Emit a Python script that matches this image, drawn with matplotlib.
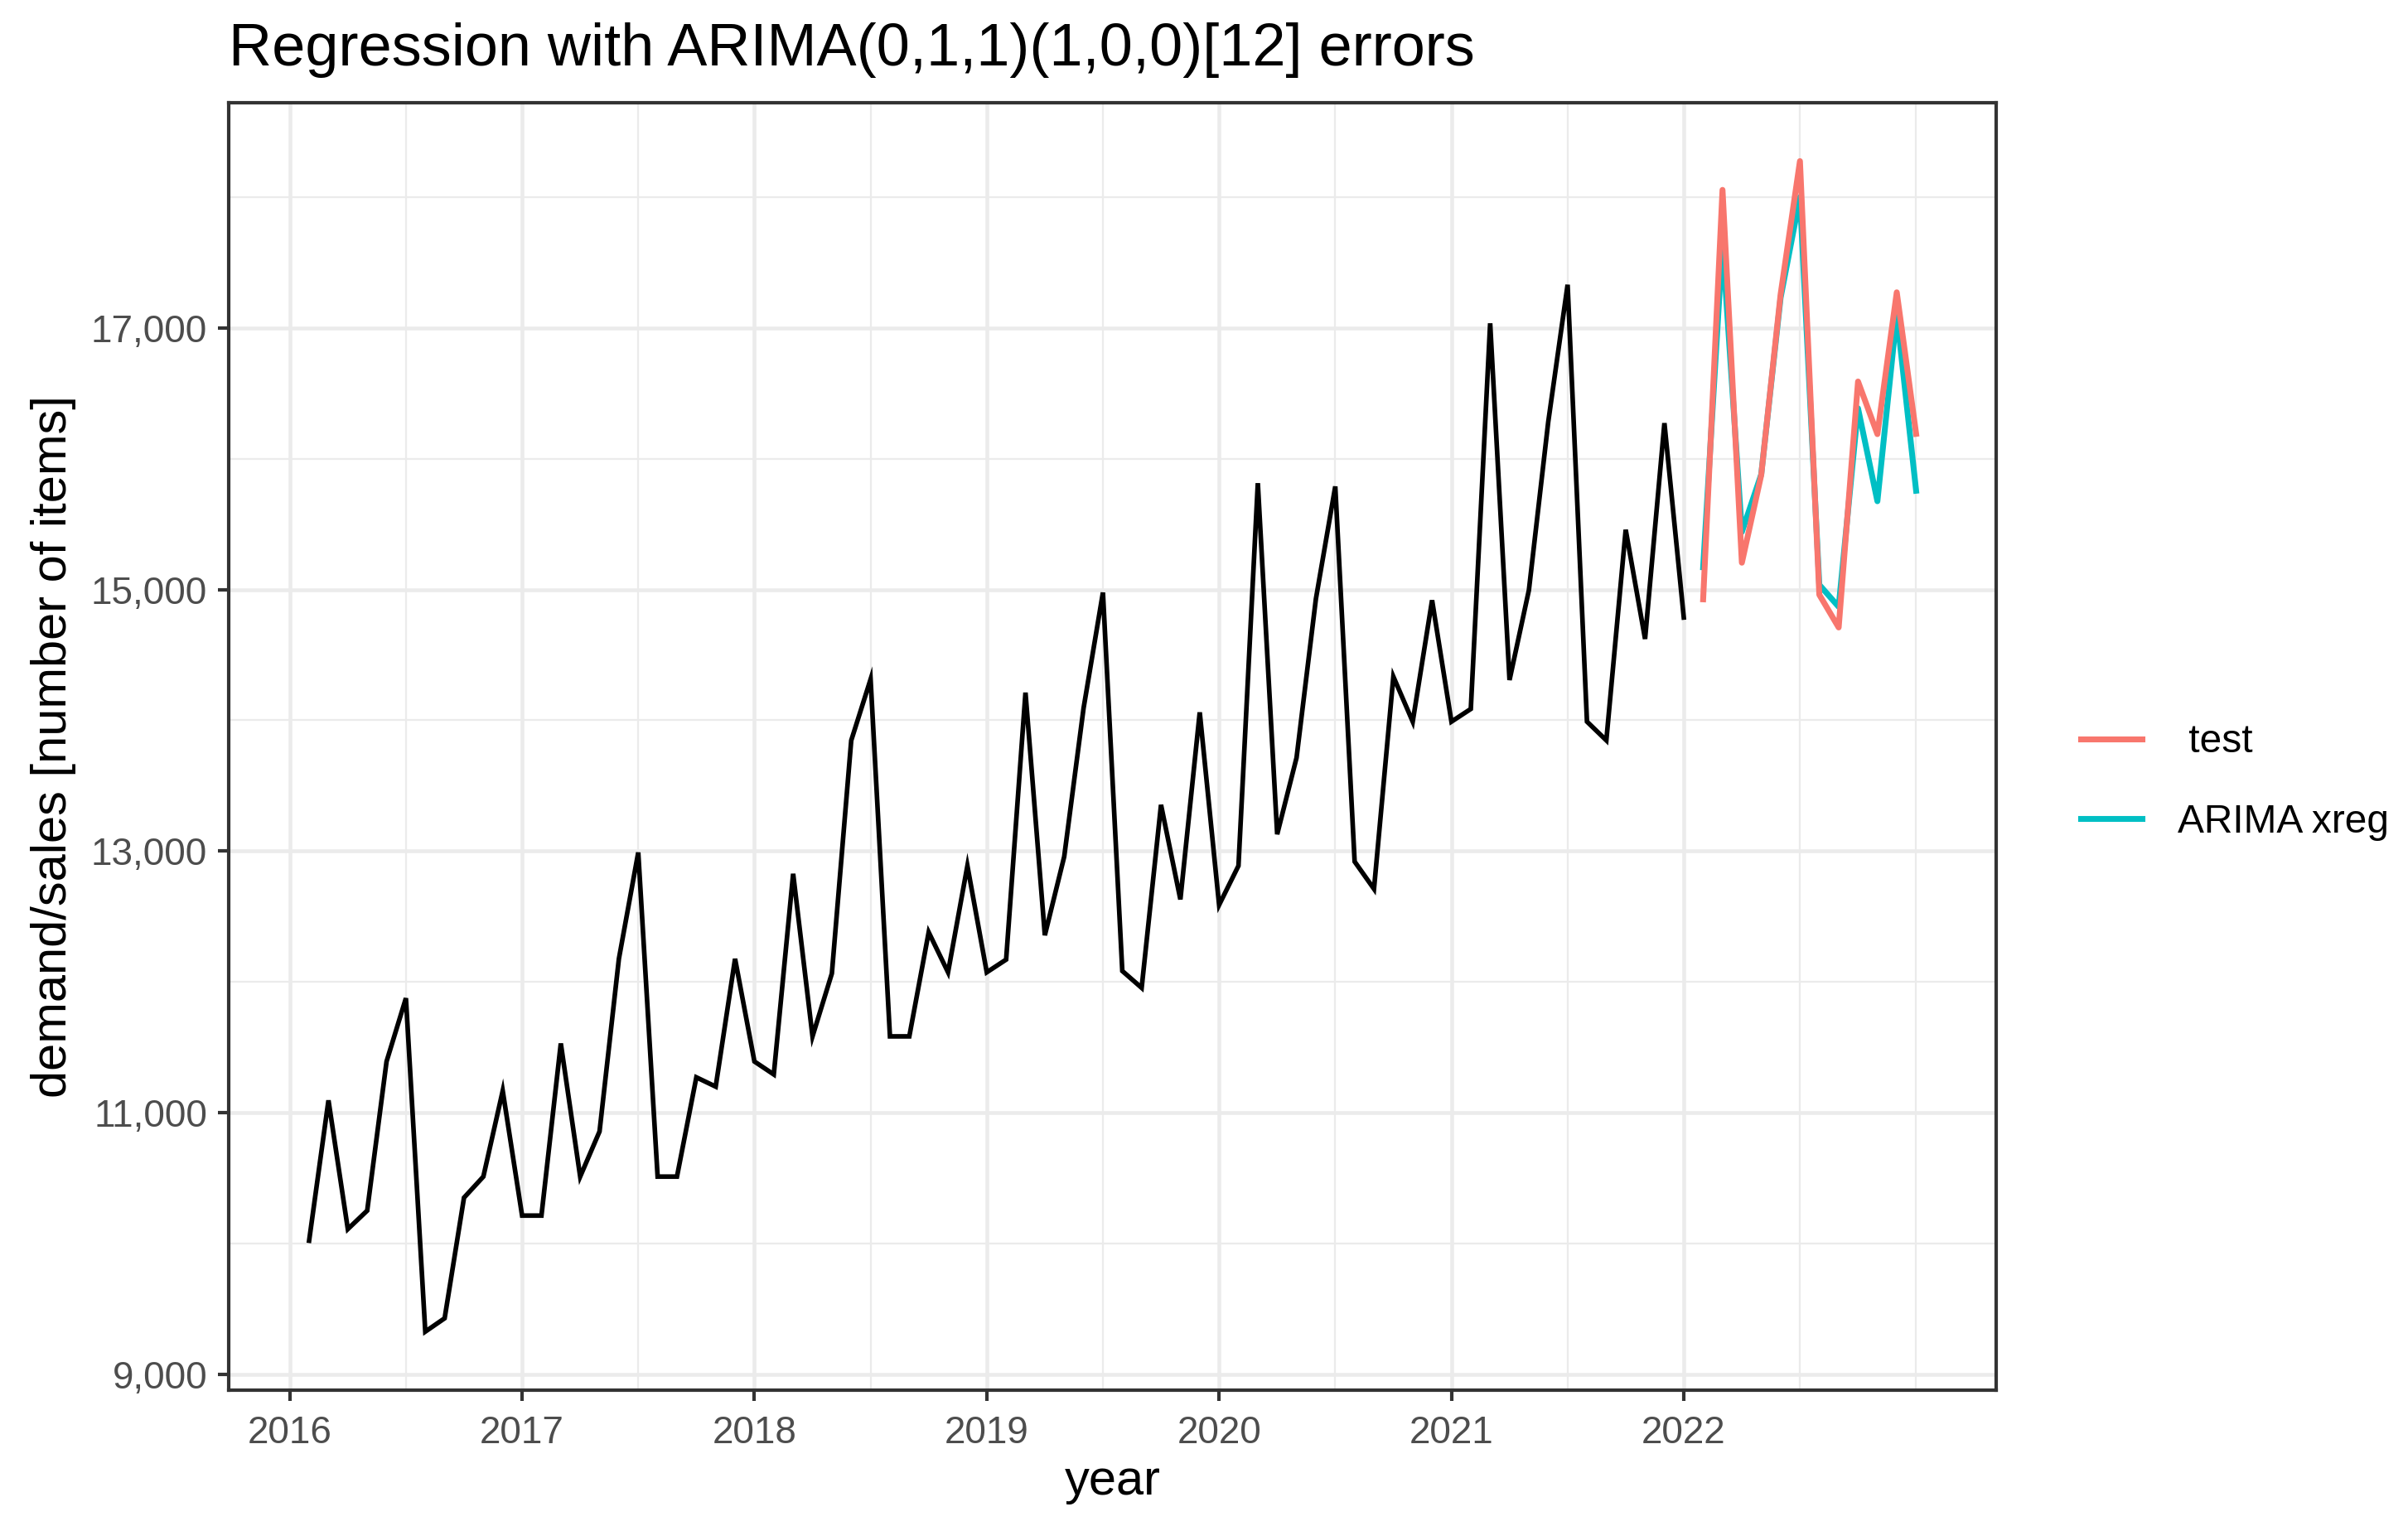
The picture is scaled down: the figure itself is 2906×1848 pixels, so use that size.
import numpy as np
import matplotlib
matplotlib.use("Agg")
import matplotlib.pyplot as plt
from matplotlib.lines import Line2D
from matplotlib.ticker import FixedLocator, FuncFormatter

plt.rcParams['font.family'] = ['Liberation Sans', 'DejaVu Sans']

# ---------------- data ----------------
start_year = 2016
train_month = list(range(1, 73))          # months after Jan 2016 (Feb 2016 .. Jan 2022)
train_sales = [10022, 11095, 10111, 10252, 11392, 11876, 9327, 9429, 10351, 10512, 11168, 10214,
               10214, 11530, 10512, 10857, 12177, 12990, 10512, 10512, 11271, 11200, 12177, 11392,
               11293, 12827, 11584, 12065, 13846, 14314, 11584, 11584, 12380, 12074, 12888, 12074,
               12171, 14212, 12357, 12958, 14093, 14977, 12084, 11955, 13354, 12631, 14061, 12589,
               12888, 15813, 13129, 13714, 14929, 15788, 12920, 12711, 14334, 13990, 14918, 13990,
               14087, 17035, 14308, 14995, 16282, 17330, 13990, 13847, 15457, 14622, 16272, 14786]
test_month = list(range(73, 85))          # Feb 2022 .. Jan 2023
test_sales = [14925, 18055, 15205, 15875, 17255, 18275, 14960, 14710, 16590, 16188, 17272, 16190]
arima_sales = [15170, 17648, 15440, 15880, 17230, 18000, 15036, 14868, 16385, 15675, 17105, 15755]

series_labels = [" test", "ARIMA xreg"]
series_colors = ["#F8766D", "#00BFC4"]

x_major = [2016, 2017, 2018, 2019, 2020, 2021, 2022]
x_minor = [2016.5, 2017.5, 2018.5, 2019.5, 2020.5, 2021.5, 2022.5, 2023.0]
y_major = [9000, 11000, 13000, 15000, 17000]
y_minor = [10000, 12000, 14000, 16000, 18000]

title = "Regression with ARIMA(0,1,1)(1,0,0)[12] errors"
xlab = "year"
ylab = "demand/sales [number of items]"

# ---------------- figure ----------------
fig = plt.figure(figsize=(2906 / 300, 1848 / 300), dpi=300)
ax = fig.add_axes([0.095, 0.092, 0.7341, 0.841])

tx = start_year + np.array(train_month) / 12.0
sx = start_year + np.array(test_month) / 12.0

ax.plot(tx, train_sales, color="black", lw=1.35, solid_joinstyle="miter", zorder=3)
ax.plot(sx, arima_sales, color=series_colors[1], lw=1.7, zorder=4)
ax.plot(sx, test_sales, color=series_colors[0], lw=1.7, zorder=5)

# limits with ggplot-like 5% expansion
allx = np.concatenate([tx, sx])
ally = np.array(train_sales + test_sales + arima_sales)
xr = allx.max() - allx.min()
yr = ally.max() - ally.min()
ax.set_xlim(allx.min() - 0.05 * xr, allx.max() + 0.05 * xr)
ax.set_ylim(ally.min() - 0.05 * yr, ally.max() + 0.05 * yr)

ax.xaxis.set_major_locator(FixedLocator(x_major))
ax.xaxis.set_minor_locator(FixedLocator(x_minor))
ax.yaxis.set_major_locator(FixedLocator(y_major))
ax.yaxis.set_minor_locator(FixedLocator(y_minor))
ax.xaxis.set_major_formatter(FuncFormatter(lambda v, p: f"{int(round(v))}"))
ax.yaxis.set_major_formatter(FuncFormatter(lambda v, p: f"{int(round(v)):,}"))

ax.set_axisbelow(True)
ax.grid(which="major", color="#EBEBEB", lw=1.1)
ax.grid(which="minor", color="#EBEBEB", lw=0.55)

for s in ax.spines.values():
    s.set_color("#333333")
    s.set_linewidth(1.0)

ax.tick_params(which="major", length=3.2, width=1.0, color="#333333",
               labelcolor="#4D4D4D", labelsize=11, pad=3)
ax.tick_params(axis="x", which="major", pad=4)
ax.tick_params(which="minor", length=0)

ax.set_xlabel(xlab, fontsize=14.3, color="black")
ax.set_ylabel(ylab, fontsize=14.3, color="black")
ax.xaxis.set_label_coords(0.5, -0.0713)
ax.yaxis.set_label_coords(-0.099, 0.5)
ax.xaxis.label.set_verticalalignment("center")
ax.yaxis.label.set_verticalalignment("center")

ax.text(0.0, 1.041, title, transform=ax.transAxes, ha="left", va="center",
        fontsize=17.3, color="black")

handles = [Line2D([], [], color=series_colors[0], lw=1.7),
           Line2D([], [], color=series_colors[1], lw=1.7)]
fig.legend(handles, series_labels, loc="center left", bbox_to_anchor=(0.864, 0.489),
           frameon=False, fontsize=11.5, handlelength=1.55, handletextpad=0.9,
           labelspacing=1.08, borderpad=0, borderaxespad=0)

fig.savefig("out.png", dpi=300, facecolor="white")
